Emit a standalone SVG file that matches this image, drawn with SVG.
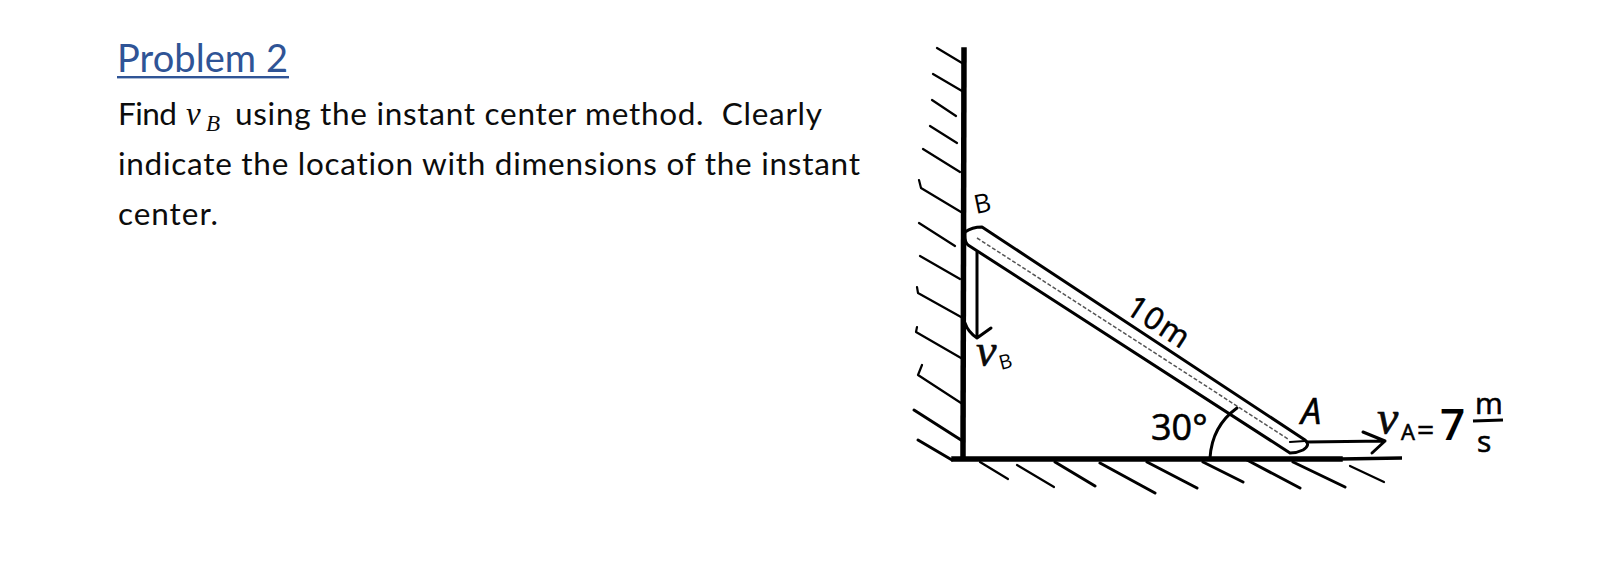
<svg xmlns="http://www.w3.org/2000/svg" width="1609" height="562" viewBox="0 0 1609 562">
<style>
.body{font-family:"Lato","Carlito","Noto Sans",sans-serif;font-size:31.5px;fill:#0c0c0c;white-space:pre;font-variant-ligatures:none}
.title{font-family:"Lato","Carlito","Noto Sans",sans-serif;font-size:38px;fill:#2f5496;font-variant-ligatures:none}
.math{font-family:"Liberation Serif",serif;font-style:italic;fill:#0c0c0c}
.hand{font-family:"Open Sans","Liberation Sans",sans-serif;fill:#000}
.ink{stroke:#000;stroke-width:.6}
.h{fill:none;stroke:#000;stroke-width:2.2;stroke-linecap:round;stroke-linejoin:round}
.m{fill:none;stroke:#000;stroke-width:3;stroke-linecap:round;stroke-linejoin:round}
.b{fill:none;stroke:#000;stroke-width:5.5;stroke-linecap:square}
.d{fill:none;stroke:#555;stroke-width:1.5;stroke-dasharray:4 2}
</style>
<rect width="1609" height="562" fill="#fff"/>
<g id="heading">
<text class="title" x="117" y="72" textLength="171">Problem 2</text>
<rect x="117" y="76" width="172" height="2.4" fill="#2f5496"/>
</g>
<g id="problem-text">
<text class="body" x="118" y="124.500" textLength="59">Find</text>
<text class="math" x="186" y="124.500" font-size="33">v</text>
<text class="math" x="206" y="131" font-size="23">B</text>
<text class="body" x="235" y="124.500" textLength="587">using the instant center method.  Clearly</text>
<text class="body" x="118" y="174.500" textLength="742">indicate the location with dimensions of the instant</text>
<text class="body" x="118" y="224.500" textLength="100">center.</text>
</g>
<g id="wall">
<path class="b" d="M964 50L963 458" stroke-width="5"/>
<path class="h" d="M937 48L962 63M933 74L962 91M932 100L956 116M930 126L957 143M923 149L960 172M919 180L921 188L961 212M919 223L955 246M920 256L960 279M917 287L918 293L961 317M917 327L916 332L961 358M922 365L918 375L961 403"/>
<path class="m" d="M914 410L961 440M918 440L952 460"/>
</g>
<g id="ground">
<path class="b" d="M954 459L1340 459"/>
<path d="M1340 459L1402 458" fill="none" stroke="#000" stroke-width="3.5"/>
<path class="h" d="M980 462L1008 479M1017 465L1054 487M1350 466L1384 482"/>
<path class="m" d="M1055 462L1095 486M1100 463L1155 493M1147 462L1197 488M1203 462L1243 482M1247 460L1300 488M1293 462L1345 487"/>
</g>
<g id="rod">
<path class="m" d="M965 232Q972 227 982 227L1305 440Q1311 445 1303 450Q1297 453 1290 453L968 245Q964 241 965 232Z"/>
<path class="d" d="M977 238L1288 439"/>
<path class="h" d="M1290 442L1305 441"/>
</g>
<g id="connectors">
<path class="m" d="M977 252L977 338M965 323Q968 332 977 338L991 328"/>
<path class="m" d="M1307 442L1385 441M1363 432L1385 441L1372 453"/>
<path class="m" d="M1237 408Q1212 426 1210 458"/>
</g>
<g id="labels">
<text class="hand" x="976" y="214" font-size="26" transform="rotate(-12 976 214)">B</text>
<text class="hand ink" x="1124" y="312" font-size="31" transform="rotate(33 1124 312)" letter-spacing="2">10m</text>
<text class="math ink" x="976" y="366" font-size="46">v</text>
<text class="hand" x="1001" y="370" font-size="20" transform="rotate(-15 1001 370)">B</text>
<text class="hand ink" x="1151" y="440" font-size="36">30°</text>
<text class="hand ink" x="1301" y="424" font-size="36" font-style="italic">A</text>
<text class="math ink" x="1377" y="434" font-size="48">v</text>
<text class="hand ink" x="1401" y="440" font-size="22">A</text>
<text class="hand ink" x="1417" y="440" font-size="30">=</text>
<text class="hand" x="1440" y="440" font-size="44" font-weight="600">7</text>
<text class="hand ink" x="1475" y="414" font-size="30">m</text>
<path d="M1473 421L1503 420" fill="none" stroke="#000" stroke-width="3"/>
<text class="hand ink" x="1477" y="452" font-size="30">s</text>
</g>
</svg>
